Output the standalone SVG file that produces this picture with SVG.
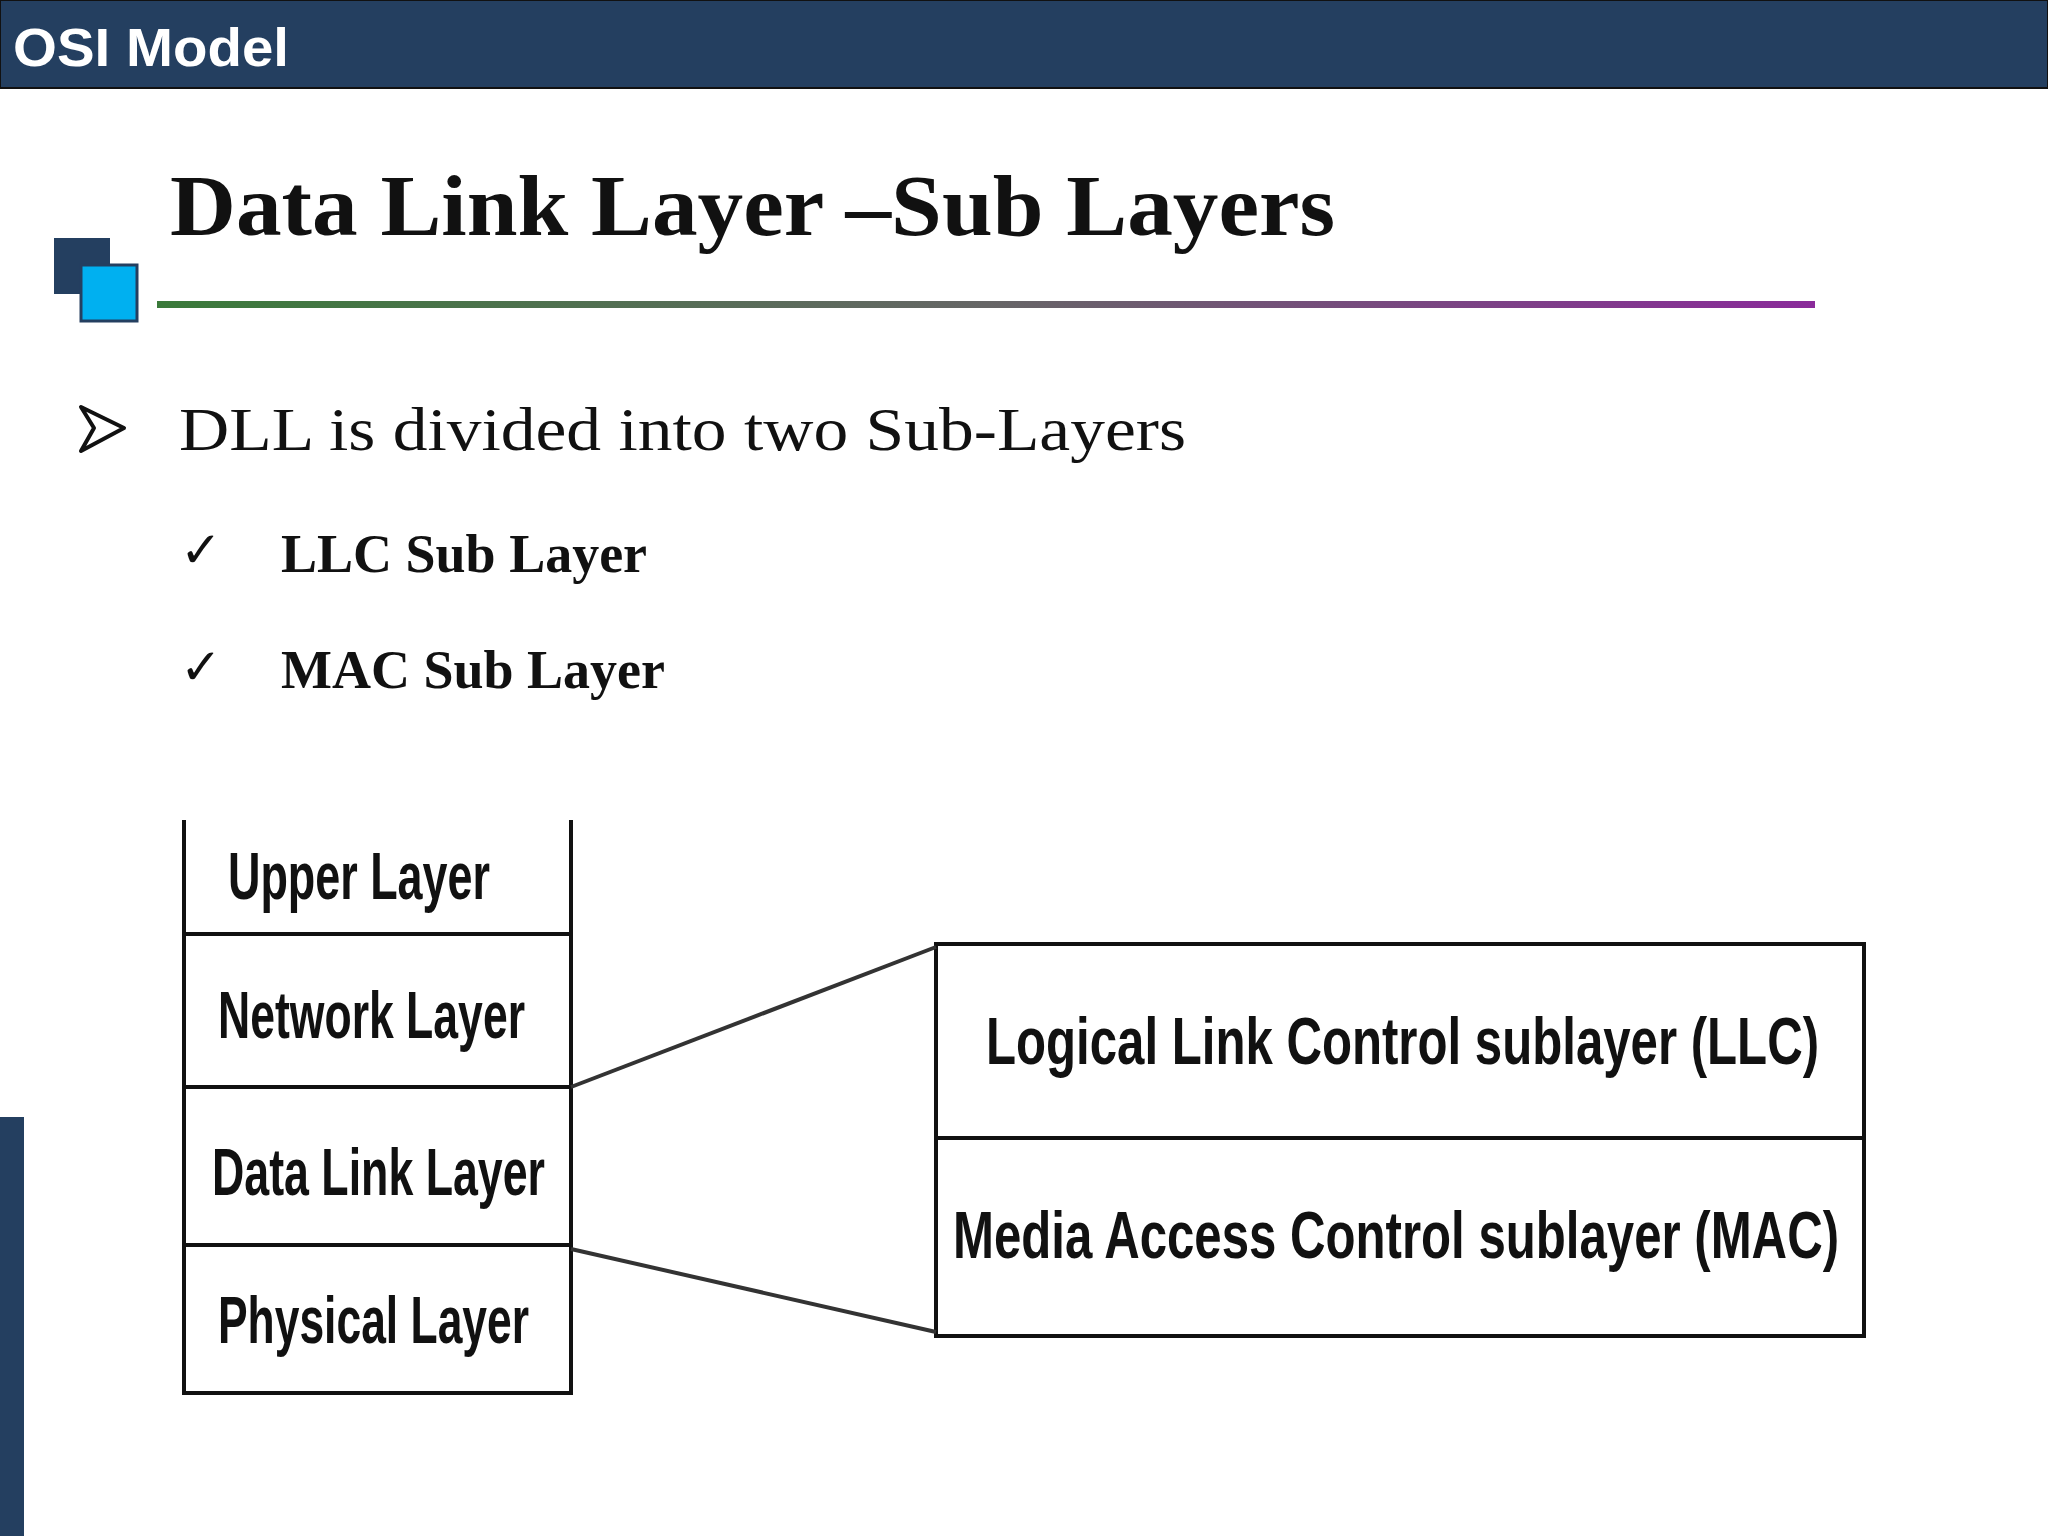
<svg xmlns="http://www.w3.org/2000/svg" width="2048" height="1536" viewBox="0 0 2048 1536">
<defs>
<linearGradient id="g" x1="0" x2="1"><stop offset="0" stop-color="#3a7a3a"/><stop offset="0.5" stop-color="#666"/><stop offset="1" stop-color="#8a2a9a"/></linearGradient>
<style>
.box{fill:#fff;stroke:#111;stroke-width:4}
.lbl{font-family:"Liberation Sans",sans-serif;font-weight:bold;font-size:66px;fill:#111}
.ser{font-family:"Liberation Serif",serif;fill:#111}
</style>
</defs>
<rect width="2048" height="1536" fill="#fff"/>
<rect x="0" y="0" width="2048" height="88" fill="#243F60" stroke="#111" stroke-width="2"/>
<text x="13" y="66" font-family="Liberation Sans,sans-serif" font-weight="bold" font-size="54" fill="#fff" textLength="276" lengthAdjust="spacingAndGlyphs">OSI Model</text>
<rect x="54" y="238" width="56" height="56" fill="#243F60"/>
<rect x="81" y="265" width="56" height="56" fill="#00B0F0" stroke="#243F60" stroke-width="3"/>
<text class="ser" x="170" y="235" font-weight="bold" font-size="86" textLength="1165" lengthAdjust="spacingAndGlyphs">Data Link Layer –Sub Layers</text>
<rect x="157" y="301" width="1658" height="7" fill="url(#g)"/>
<path d="M81 407L124 428L81 451L94 428Z" fill="#fff" stroke="#111" stroke-width="4" stroke-linejoin="round"/>
<text class="ser" x="179" y="450" font-size="62" textLength="1007" lengthAdjust="spacingAndGlyphs">DLL is divided into two Sub-Layers</text>
<text class="ser" x="180" y="567" font-size="50">✓</text>
<text class="ser" x="281" y="572" font-weight="bold" font-size="54">LLC Sub Layer</text>
<text class="ser" x="180" y="684" font-size="50">✓</text>
<text class="ser" x="281" y="688" font-weight="bold" font-size="54">MAC Sub Layer</text>
<rect x="0" y="1117" width="24" height="419" fill="#243F60"/>
<g id="upper"><path d="M184 820V934H571V820" fill="none" stroke="#111" stroke-width="4"/><text class="lbl" x="228" y="899" textLength="262" lengthAdjust="spacingAndGlyphs">Upper Layer</text></g>
<g id="network"><rect class="box" x="184" y="934" width="387" height="153"/><text class="lbl" x="218" y="1038" textLength="307" lengthAdjust="spacingAndGlyphs">Network Layer</text></g>
<g id="datalink"><rect class="box" x="184" y="1087" width="387" height="158"/><text class="lbl" x="212" y="1195" textLength="333" lengthAdjust="spacingAndGlyphs">Data Link Layer</text></g>
<g id="physical"><rect class="box" x="184" y="1245" width="387" height="148"/><text class="lbl" x="218" y="1343" textLength="311" lengthAdjust="spacingAndGlyphs">Physical Layer</text></g>
<g id="llc"><rect class="box" x="936" y="944" width="928" height="194"/><text class="lbl" x="986" y="1064" textLength="833" lengthAdjust="spacingAndGlyphs">Logical Link Control sublayer (LLC)</text></g>
<g id="mac"><rect class="box" x="936" y="1138" width="928" height="198"/><text class="lbl" x="953" y="1258" textLength="886" lengthAdjust="spacingAndGlyphs">Media Access Control sublayer (MAC)</text></g>
<g id="connectors" stroke="#333" stroke-width="4"><line x1="571" y1="1087" x2="936" y2="947"/><line x1="571" y1="1249" x2="936" y2="1332"/></g>
</svg>
